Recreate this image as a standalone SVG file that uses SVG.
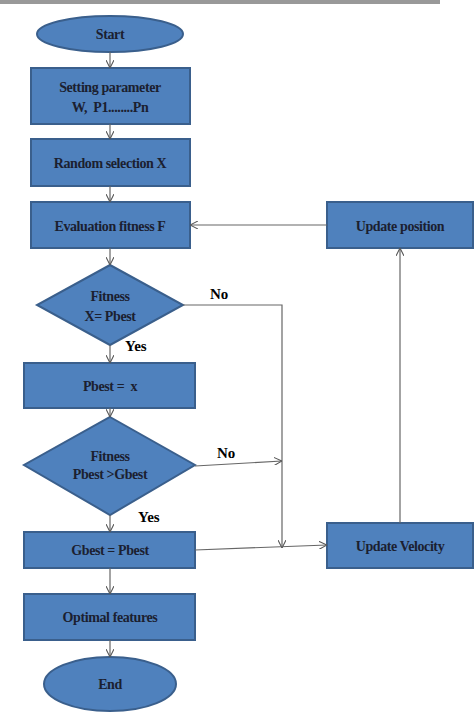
<svg xmlns="http://www.w3.org/2000/svg" width="474" height="712" viewBox="0 0 474 712">
<defs>
<marker id="arr" viewBox="0 0 10 10" refX="10" refY="5" markerWidth="8" markerHeight="8" orient="auto" markerUnits="userSpaceOnUse">
<path d="M0,0 L10,5 L0,10" fill="none" stroke="#555" stroke-width="1.3"/>
</marker>
<style>
.n{fill:#4F81BD;stroke:#3A5F8C;stroke-width:2}
.t{font-family:"Liberation Serif",serif;font-weight:bold;font-size:14px;letter-spacing:-0.4px;fill:#1b2030;text-anchor:middle}
.l{font-family:"Liberation Serif",serif;font-weight:bold;font-size:15px;fill:#000}
.c{fill:none;stroke:#666;stroke-width:1.2}
.a{marker-end:url(#arr)}
</style>
</defs>
<rect x="0" y="0" width="440" height="4" fill="#999"/>
<g id="start"><ellipse class="n" cx="110" cy="34" rx="73" ry="18"/><text class="t" x="110" y="39">Start</text></g>
<g id="setting"><rect class="n" x="31" y="68" width="159" height="56"/><text class="t" x="110" y="92">Setting parameter</text><text class="t" x="110" y="112">W,&#160; P1........Pn</text></g>
<g id="random"><rect class="n" x="31" y="139" width="159" height="47"/><text class="t" x="110" y="168">Random selection X</text></g>
<g id="eval"><rect class="n" x="31" y="202" width="159" height="46"/><text class="t" x="110" y="231">Evaluation fitness F</text></g>
<g id="updpos"><rect class="n" x="327" y="202" width="146" height="46"/><text class="t" x="400" y="231">Update position</text></g>
<g id="dec1"><polygon class="n" points="110,265 183,305 110,345 37,305"/><text class="t" x="110" y="301">Fitness</text><text class="t" x="110" y="321">X= Pbest</text></g>
<g id="pbest"><rect class="n" x="24" y="363" width="171" height="45"/><text class="t" x="110" y="391">Pbest =&#160; x</text></g>
<g id="dec2"><polygon class="n" points="110,417 195,465 110,515 24,465"/><text class="t" x="110" y="461">Fitness</text><text class="t" x="110" y="479">Pbest &gt;Gbest</text></g>
<g id="gbest"><rect class="n" x="24" y="532" width="171" height="36"/><text class="t" x="110" y="555">Gbest = Pbest</text></g>
<g id="updvel"><rect class="n" x="327" y="523" width="146" height="45"/><text class="t" x="400" y="551">Update Velocity</text></g>
<g id="optimal"><rect class="n" x="24" y="594" width="171" height="46"/><text class="t" x="110" y="622">Optimal features</text></g>
<g id="end"><ellipse class="n" cx="110" cy="684" rx="66" ry="27"/><text class="t" x="110" y="689">End</text></g>
<g id="connectors">
<line class="c a" x1="110" y1="52" x2="110" y2="68"/>
<line class="c a" x1="110" y1="124" x2="110" y2="139"/>
<line class="c a" x1="110" y1="186" x2="110" y2="202"/>
<line class="c a" x1="110" y1="248" x2="110" y2="265"/>
<line class="c a" x1="110" y1="345" x2="110" y2="363"/>
<line class="c a" x1="110" y1="408" x2="110" y2="417"/>
<line class="c a" x1="110" y1="515" x2="110" y2="532"/>
<line class="c a" x1="110" y1="568" x2="110" y2="594"/>
<line class="c a" x1="110" y1="640" x2="110" y2="657"/>
<line class="c a" x1="327" y1="225" x2="190" y2="225"/>
<polyline class="c a" points="183,305 282,305 282,548"/>
<line class="c a" x1="195" y1="466" x2="282" y2="461"/>
<line class="c a" x1="195" y1="550" x2="327" y2="545"/>
<line class="c a" x1="400" y1="523" x2="400" y2="248"/>
<text class="l" x="210" y="299">No</text>
<text class="l" x="125" y="351">Yes</text>
<text class="l" x="217" y="458">No</text>
<text class="l" x="138" y="522">Yes</text>
</g>
</svg>
